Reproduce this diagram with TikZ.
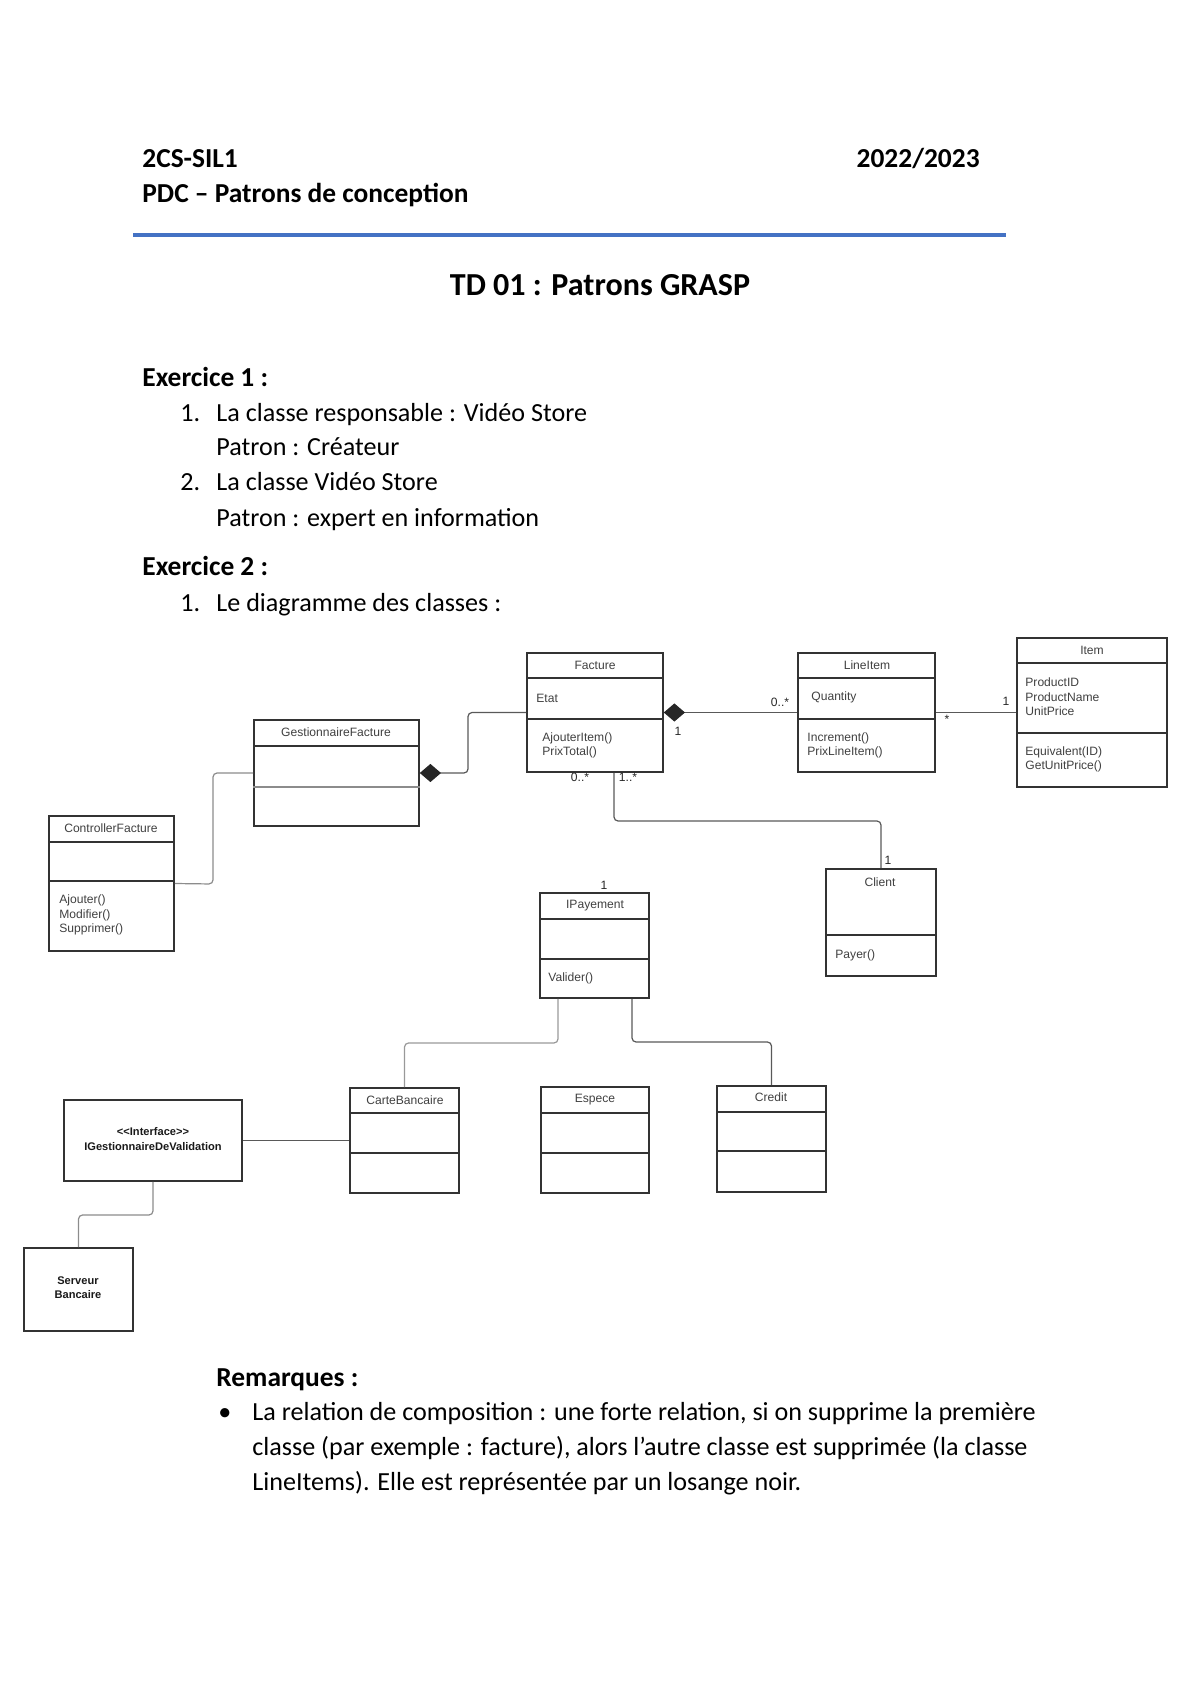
\documentclass[tikz,border=0pt]{standalone}
\usepackage{fontspec}
\setmainfont{Carlito}
\newfontfamily\umlfont{Liberation Sans}
\usetikzlibrary{arrows.meta,fit}
\definecolor{titleblue}{HTML}{4472C4}
\tikzset{
  doctext/.style={inner sep=0pt, anchor=base west, font=\fontsize{12.95}{15}\selectfont},
  docbold/.style={doctext, font=\fontsize{13.6}{16}\selectfont\bfseries},
  umlbox/.style={draw=black!80, line width=0.8pt, inner sep=0pt},
  compline/.style={draw=black!80, line width=0.8pt},
  link/.style={draw=black!65, line width=0.6pt, rounded corners=2pt},
  ctitle/.style={inner sep=0pt, text=black!75, font=\umlfont\fontsize{6}{7}\selectfont},
  cmember/.style={ctitle, anchor=west},
  cbold/.style={inner sep=0pt, text=black!90, font=\umlfont\fontsize{5.5}{6.5}\selectfont\bfseries},
  mult/.style={inner sep=0pt, text=black!85, font=\umlfont\fontsize{6}{7}\selectfont},
  compo/.style={{Diamond[length=10.5pt,width=9pt,color=black!85]}-},
}
\begin{document}
\begin{tikzpicture}[x=0.4961pt, y=-0.4961pt]
\useasboundingbox (0,0) rectangle (1200,1696);

% Header of the sheet
\node[docbold] (course) at (142,168) {2CS-SIL1};%
\node[docbold, anchor=base east] (year) at (980,168) {2022/2023};%
\node[docbold] (module) at (142,203) {PDC – Patrons de conception};%
\draw[titleblue, line width=1.5pt] (133,235) -- (1006,235);%
\node[docbold, anchor=base, font=\fontsize{15.9}{19}\selectfont\bfseries] (tdtitle) at (600,295) {TD 01 : Patrons GRASP};%

% Exercice 1
\node[docbold] (ex1) at (142,386) {Exercice 1 :};%
\node[doctext] (ex1n1) at (180,421) {1.};%
\node[doctext] (ex1a) at (216,421) {La classe responsable : Vidéo Store};%
\node[doctext] (ex1b) at (216,455) {Patron : Créateur};%
\node[doctext] (ex1n2) at (180,490) {2.};%
\node[doctext] (ex1c) at (216,490) {La classe Vidéo Store};%
\node[doctext] (ex1d) at (216,526) {Patron : expert en information};%

% Exercice 2
\node[docbold] (ex2) at (142,575) {Exercice 2 :};%
\node[doctext] (ex2n1) at (180,611) {1.};%
\node[doctext] (ex2a) at (216,611) {Le diagramme des classes :};%

% Drawing class Facture
\node[umlbox, fit={(527,653) (663,772)}] (fac) {};%
\draw[compline] (fac.west |- 0,678) -- (fac.east |- 0,678);%
\draw[compline] (fac.west |- 0,719) -- (fac.east |- 0,719);%
\node[ctitle] (facT) at (595,665) {Facture};%
\node[cmember] (facA) at (536,698) {Etat};%
\node[cmember] (facM1) at (542,738) {AjouterItem()};%
\node[cmember] (facM2) at (542,752) {PrixTotal()};%

% Drawing class LineItem
\node[umlbox, fit={(798,653) (935,772)}] (li) {};%
\draw[compline] (li.west |- 0,678) -- (li.east |- 0,678);%
\draw[compline] (li.west |- 0,719) -- (li.east |- 0,719);%
\node[ctitle] (liT) at (867,665) {LineItem};%
\node[cmember] (liA) at (811,697) {Quantity};%
\node[cmember] (liM1) at (807,738) {Increment()};%
\node[cmember] (liM2) at (807,752) {PrixLineItem()};%

% Drawing class Item
\node[umlbox, fit={(1017,638) (1167,787)}] (it) {};%
\draw[compline] (it.west |- 0,663) -- (it.east |- 0,663);%
\draw[compline] (it.west |- 0,733) -- (it.east |- 0,733);%
\node[ctitle] (itT) at (1092,650) {Item};%
\node[cmember] (itA1) at (1025,682) {ProductID};%
\node[cmember] (itA2) at (1025,697) {ProductName};%
\node[cmember] (itA3) at (1025,711) {UnitPrice};%
\node[cmember] (itM1) at (1025,752) {Equivalent(ID)};%
\node[cmember] (itM2) at (1025,766) {GetUnitPrice()};%

% Drawing class GestionnaireFacture
\node[umlbox, fit={(254,720) (419,826)}] (gf) {};%
\draw[compline] (gf.west |- 0,746) -- (gf.east |- 0,746);%
\draw[compline, draw=black!45] (gf.west |- 0,787) -- (gf.east |- 0,787);%
\node[ctitle] (gfT) at (336,732) {GestionnaireFacture};%

% Drawing class ControllerFacture
\node[umlbox, fit={(49,816) (174,951)}] (cf) {};%
\draw[compline] (cf.west |- 0,842) -- (cf.east |- 0,842);%
\draw[compline] (cf.west |- 0,881) -- (cf.east |- 0,881);%
\node[ctitle] (cfT) at (111,828) {ControllerFacture};%
\node[cmember] (cfM1) at (59,900) {Ajouter()};%
\node[cmember] (cfM2) at (59,915) {Modifier()};%
\node[cmember] (cfM3) at (59,929) {Supprimer()};%

% Drawing class IPayement
\node[umlbox, fit={(540,893) (649,998)}] (ip) {};%
\draw[compline] (ip.west |- 0,919) -- (ip.east |- 0,919);%
\draw[compline] (ip.west |- 0,959) -- (ip.east |- 0,959);%
\node[ctitle] (ipT) at (595,906) {IPayement};%
\node[cmember] (ipM) at (548,978) {Valider()};%

% Drawing class Client
\node[umlbox, fit={(826,869) (936,976)}] (cl) {};%
\draw[compline] (cl.west |- 0,935) -- (cl.east |- 0,935);%
\node[ctitle] (clT) at (880,882) {Client};%
\node[cmember] (clM) at (835,955) {Payer()};%

% Drawing classes CarteBancaire, Espece, Credit
\node[umlbox, fit={(350,1088) (459,1193)}] (cb) {};%
\draw[compline] (cb.west |- 0,1113) -- (cb.east |- 0,1113);%
\draw[compline] (cb.west |- 0,1153) -- (cb.east |- 0,1153);%
\node[ctitle] (cbT) at (405,1100) {CarteBancaire};%
\node[umlbox, fit={(541,1087) (649,1193)}] (es) {};%
\draw[compline] (es.west |- 0,1113) -- (es.east |- 0,1113);%
\draw[compline] (es.west |- 0,1153) -- (es.east |- 0,1153);%
\node[ctitle] (esT) at (595,1100) {Espece};%
\node[umlbox, fit={(717,1086) (826,1192)}] (cr) {};%
\draw[compline] (cr.west |- 0,1112) -- (cr.east |- 0,1112);%
\draw[compline] (cr.west |- 0,1151) -- (cr.east |- 0,1151);%
\node[ctitle] (crT) at (771,1097) {Credit};%

% Drawing interface and server
\node[umlbox, fit={(64,1100) (242,1181)}] (ig) {};%
\node[cbold] (igS) at (153,1132) {<\kern0pt<Interface>\kern0pt>};%
\node[cbold] (igT) at (153,1147) {IGestionnaireDeValidation};%
\node[umlbox, fit={(24,1248) (133,1331)}] (sb) {};%
\node[cbold] (sbT1) at (78,1281) {Serveur};%
\node[cbold] (sbT2) at (78,1295) {Bancaire};%

% Drawing links
\draw[link, compo] (fac.east) -- (li.west);%
\draw[link] (li.east) -- (it.west);%
\draw[link, compo] (gf.east) -- (468,773) |- (fac.west);%
\draw[link, draw=black!45] (cf.east) -- (213,884) |- (gf.west);%
\draw[link] (fac.south -| 614,0) -- (614,821) -| (cl.north);%
\draw[link, draw=black!40] (ip.south -| 558,0) -- (558,1043) -| (cb.north);%
\draw[link] (ip.south -| 632,0) -- (632,1042) -| (cr.north);%
\draw[link] (ig.east) -- (cb.west);%
\draw[link, draw=black!45] (ig.south) -- (153,1215) -| (sb.north);%

% Marking multiplicities
\node[mult] (m1) at (678,731) {1};%
\node[mult] (m2) at (780,702) {0..*};%
\node[mult] (m3) at (947,719) {*};%
\node[mult] (m4) at (1006,701) {1};%
\node[mult] (m5) at (580,777) {0..*};%
\node[mult] (m6) at (628,777) {1..*};%
\node[mult] (m7) at (888,860) {1};%
\node[mult] (m8) at (604,885) {1};%

% Remarques
\node[docbold] (rem) at (216,1386) {Remarques :};%
\node[doctext] (bul) at (218,1420) {•};%
\node[doctext] (rem1) at (252,1420) {La relation de composition : une forte relation, si on supprime la première};%
\node[doctext] (rem2) at (252,1455) {classe (par exemple : facture), alors l’autre classe est supprimée (la classe};%
\node[doctext] (rem3) at (252,1490) {LineItems). Elle est représentée par un losange noir.};%
\end{tikzpicture}
\end{document}
